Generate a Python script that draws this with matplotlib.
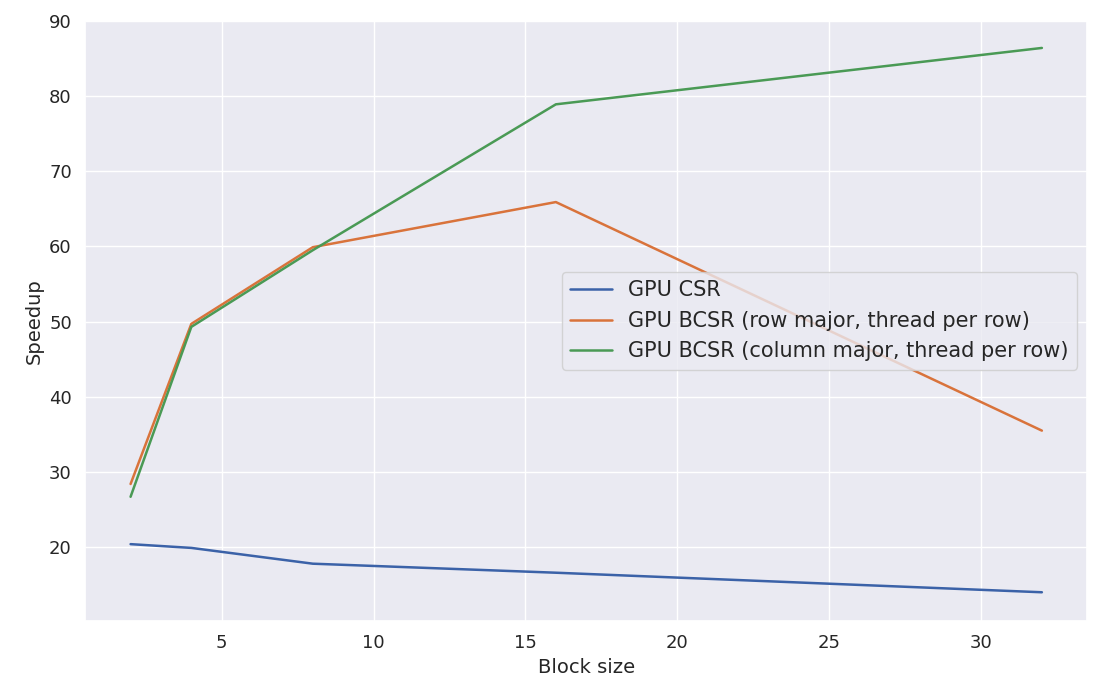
import matplotlib
matplotlib.use("Agg")
import matplotlib.pyplot as plt
import seaborn as sns

block_sizes = [2, 4, 8, 16, 32]
gpu_csr = [20.4, 19.9, 17.8, 16.6, 14.0]
bcsr_row = [28.4, 49.7, 59.9, 65.9, 35.5]
bcsr_col = [26.7, 49.3, 59.5, 78.9, 86.4]
labels = ["GPU CSR", "GPU BCSR (row major, thread per row)", "GPU BCSR (column major, thread per row)"]

sns.set_theme(style="darkgrid")
fig = plt.figure(figsize=(11.04, 6.96), dpi=100)
ax = fig.add_axes([0.077, 0.108, 0.908, 0.862])
pal = ["#3b62a8", "#d9733b", "#4a9a55"]
for ys, lab, c in zip([gpu_csr, bcsr_row, bcsr_col], labels, pal):
    ax.plot(block_sizes, ys, label=lab, color=c, lw=1.8)
ax.set_ylim(10.2, 90)
ax.set_yticks([20, 30, 40, 50, 60, 70, 80, 90])
ax.set_xticks([5, 10, 15, 20, 25, 30])
ax.tick_params(labelsize=13)
ax.set_xlabel("Block size", fontsize=14)
ax.set_ylabel("Speedup", fontsize=14)
ax.legend(loc="center right", fontsize=15, bbox_to_anchor=(1.0, 0.50))
fig.savefig("out.png", dpi=100)
